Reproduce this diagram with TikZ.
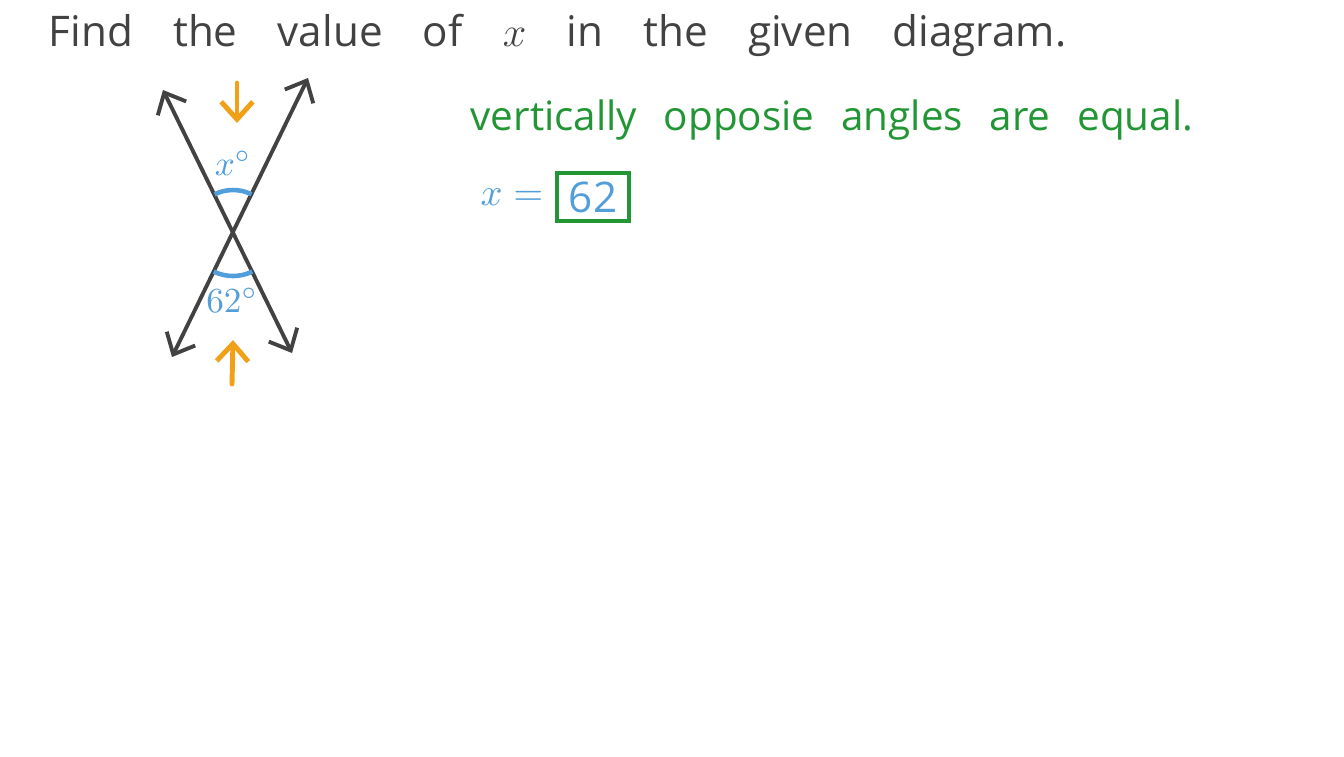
\documentclass[tikz,border=0pt]{standalone}
\usepackage{fontspec}
\setmainfont{Open Sans}
\usetikzlibrary{arrows.meta,positioning}
\definecolor{pen}{RGB}{66,66,66}
\definecolor{hintorange}{RGB}{242,160,24}
\definecolor{markblue}{RGB}{82,158,218}
\definecolor{notegreen}{RGB}{34,150,52}
\begin{document}
\begin{tikzpicture}[x=0.01cm, y=0.01cm,
ray/.style={
	pen, line width=1.1pt, line cap=round,
	{Straight Barb[length=5pt,width=9pt]}-{Straight Barb[length=5pt,width=9pt]}
},
pointer/.style={hintorange, line width=1.4pt, line cap=round, -{Straight Barb[length=5pt,width=9pt]}},
angarc/.style={markblue, line width=1.3pt},
lbl/.style={markblue, font=\fontsize{10}{12}\selectfont, inner sep=1pt},
answer/.style={draw=notegreen, line width=1.4pt, text=markblue, minimum width=0.72cm,
	minimum height=0.48cm, inner sep=0pt, font=\fontsize{12}{14}\selectfont}
]
\useasboundingbox (0,0) rectangle (1344,-756);
% the two crossing lines
\coordinate (O) at (233,-232);
\coordinate (UL) at (163,-90);
\coordinate (DR) at (292,-353);
\coordinate (UR) at (308,-78);
\coordinate (DL) at (172,-357);
\draw[ray] (UL) -- (DR);
\draw[ray] (DL) -- (UR);
% angle marks
\draw[angarc] (O) ++(64:42) arc[start angle=64, end angle=116, radius=42];
\draw[angarc] (O) ++(244:44) arc[start angle=244, end angle=296, radius=44];
\node[lbl] (xang) at (233,-163) {$x^{\circ}$};
\node[lbl] (sixtytwo) at (232,-300) {$62^{\circ}$};
% orange pointers
\coordinate (P1) at (237,-83);
\coordinate (P2) at (237,-123);
\coordinate (Q1) at (232,-384);
\coordinate (Q2) at (233,-340);
\draw[pointer] (P1) -- (P2);
\draw[pointer] (Q1) -- (Q2);
% texts
\node[pen, anchor=west, inner sep=0pt, font=\fontsize{12}{14}\selectfont] (title) at (48,-35)
	{\makebox[10.17cm][s]{Find the value of $x$ in the given diagram.}};
\node[notegreen, anchor=west, inner sep=0pt, font=\fontsize{11.5}{14}\selectfont] (rule) at (470,-120)
	{\makebox[7.22cm][s]{vertically opposie angles are equal.}};
\node[answer] (box) at (593,-197) {62};
\node[markblue, left=3pt of box, inner sep=0pt, font=\fontsize{11}{13}\selectfont] (xeq) {$x=$};
\end{tikzpicture}
\end{document}
